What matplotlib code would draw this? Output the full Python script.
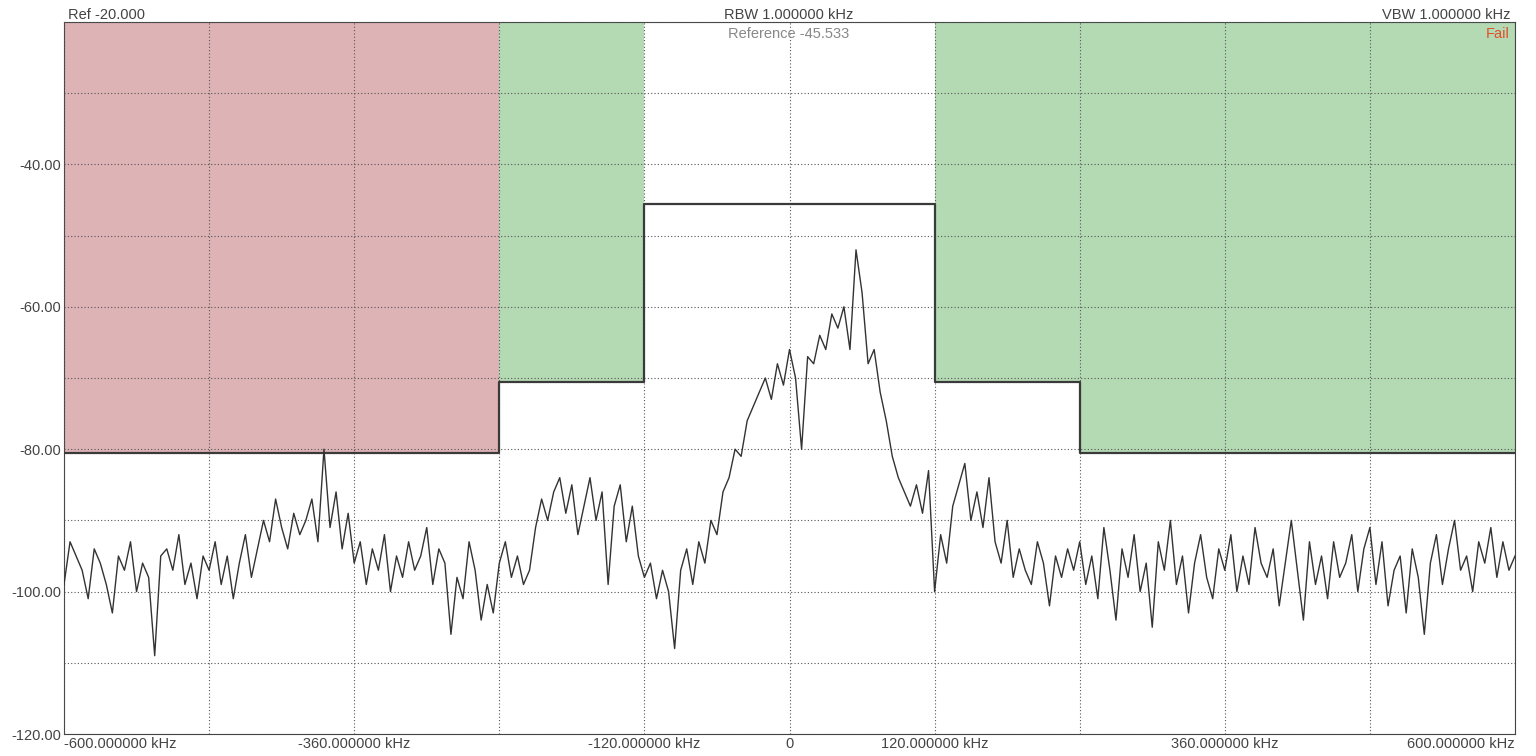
import numpy as np
import matplotlib
matplotlib.use("Agg")
import matplotlib.pyplot as plt

plt.rcParams['font.family'] = ['Liberation Sans', 'DejaVu Sans']

freq_start, freq_step = -600, 5
trace_db = [
 -99,-93,-95,-97,-101,-94,-96,-99,-103,-95,-97,-93,-100,-96,-98,-109,-95,-94,-97,-92,-99,-96,-101,-95,
 -97,-93,-99,-95,-101,-96,-92,-98,-94,-90,-93,-87,-91,-94,-89,-92,-90,-87,-93,-80,-91,-86,-94,-89,
 -96,-93,-99,-94,-97,-92,-100,-95,-98,-93,-97,-95,-91,-99,-94,-96,-106,-98,-101,-93,-97,-104,-99,-103,
 -96,-93,-98,-95,-99,-97,-91,-87,-90,-86,-84,-89,-85,-92,-88,-84,-90,-86,-99,-88,-85,-93,-88,-95,
 -98,-96,-101,-97,-100,-108,-97,-94,-99,-93,-96,-90,-92,-86,-84,-80,-81,-76,-74,-72,-70,-73,-68,-71,
 -66,-70,-80,-67,-68,-64,-66,-61,-63,-60,-66,-52,-58,-68,-66,-72,-76,-81,-84,-86,-88,-85,-89,-83,
 -100,-92,-96,-88,-85,-82,-90,-86,-91,-84,-93,-96,-90,-98,-94,-97,-99,-93,-96,-102,-95,-98,-94,-97,
 -93,-99,-95,-101,-91,-97,-104,-94,-98,-92,-100,-96,-105,-93,-97,-90,-99,-95,-103,-96,-92,-98,-101,-94,
 -97,-92,-100,-95,-99,-91,-96,-98,-94,-102,-96,-90,-97,-104,-93,-99,-95,-101,-93,-98,-96,-92,-100,-94,
 -91,-99,-93,-102,-97,-95,-103,-94,-98,-106,-96,-92,-99,-94,-90,-97,-95,-100,-93,-96,-91,-98,-93,-97,
 -95]
freqs = freq_start + freq_step * np.arange(len(trace_db))

reference = -45.533
mask_edges = [-600, -240, -120, 120, 240, 600]
mask_levels = [reference - 35, reference - 25, reference, reference - 25, reference - 35]
mask_colors = ['#DDB3B6', '#B4DAB4', None, '#B4DAB4', '#B4DAB4']

xticks = [-600, -360, -120, 0, 120, 360, 600]
xlabels = ['-600.000000 kHz', '-360.000000 kHz', '-120.000000 kHz', '0',
           '120.000000 kHz', '360.000000 kHz', '600.000000 kHz']
yticks = [-120, -100, -80, -60, -40]

fig = plt.figure(figsize=(15.36, 7.56), dpi=100)
ax = fig.add_axes([64/1536, 22/756, (1515-64)/1536, (734-22)/756])
ax.set_xlim(-600, 600)
ax.set_ylim(-120, -20)

for i, c in enumerate(mask_colors):
    if c:
        ax.fill_between([mask_edges[i], mask_edges[i+1]], mask_levels[i], -20,
                        color=c, lw=0, zorder=0)
mx, my = [], []
for i, lv in enumerate(mask_levels):
    mx += [mask_edges[i], mask_edges[i+1]]
    my += [lv, lv]
ax.plot(mx, my, color='#3a3a3a', lw=1.6, zorder=3)

ax.set_xticks(np.arange(-600, 601, 120), minor=False)
ax.set_yticks(np.arange(-120, -19, 10))
ax.grid(True, color='#555555', ls=(0, (1, 2)), lw=0.8, zorder=1)
ax.set_axisbelow(False)
ax.tick_params(length=0, labelsize=10.5, colors='#444444', pad=2)
ax.set_xticklabels([xlabels[xticks.index(t)] if t in xticks else '' for t in np.arange(-600, 601, 120)])
ax.set_yticklabels([f'{t:.2f}' if t in yticks else '' for t in np.arange(-120, -19, 10)])
lbls = ax.get_xticklabels()
lbls[0].set_ha('left')
lbls[-1].set_ha('right')

ax.plot(freqs, trace_db, color='#333333', lw=1.0, zorder=4)

for s in ax.spines.values():
    s.set_color('#444444')
    s.set_linewidth(0.8)

fig.text(68/1536, 1 - 15/756, 'Ref -20.000', ha='left', va='center', fontsize=10.5, color='#444444')
fig.text(789/1536, 1 - 15/756, 'RBW 1.000000 kHz', ha='center', va='center', fontsize=10.5, color='#444444')
fig.text(1510/1536, 1 - 15/756, 'VBW 1.000000 kHz', ha='right', va='center', fontsize=10.5, color='#444444')
fig.text(789/1536, 1 - 34/756, f'Reference {reference:.3f}', ha='center', va='center', fontsize=10.5, color='#888888')
fig.text(1510/1536, 1 - 34/756, 'Fail', ha='right', va='center', fontsize=10.5, color='#E0502A')

fig.savefig('out.png', dpi=100)
